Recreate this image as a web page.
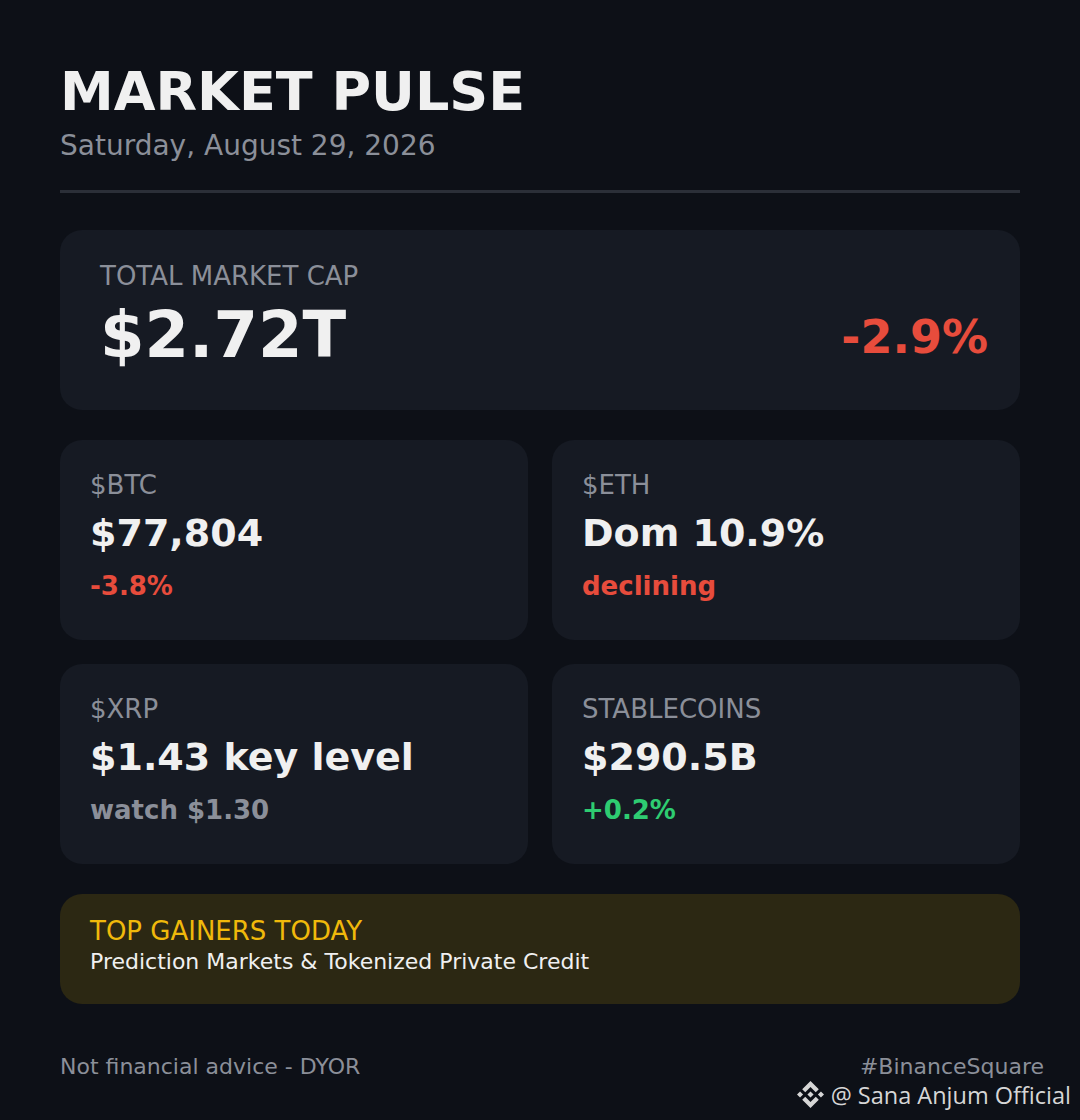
<!DOCTYPE html>
<html>
<head>
<meta charset="utf-8">
<script src="https://cdn.jsdelivr.net/npm/chart.js@4.4.1/dist/chart.umd.min.js"></script>
<style>
  html, body { margin: 0; padding: 0; }
  body { width: 1080px; height: 1120px; background: #0d1017; position: relative; overflow: hidden;
         font-family: "DejaVu Sans", sans-serif; color: #f0f0f0; }
  .abs { position: absolute; white-space: nowrap; }
  .card { position: absolute; background: #161a23; border-radius: 22px; }
  .gray { color: #8b8f99; }
  .down { color: #e74c3c; }
  .up { color: #2ecc71; }
  .neutral { color: #8b8f99; }
  .b { font-weight: bold; }
</style>
</head>
<body>
<div id="root"></div>
<script>
// ---- data ----
const title = "MARKET PULSE";
const dateLine = "Saturday, August 29, 2026";
const totalLabel = "TOTAL MARKET CAP";
const totalValue = "$2.72T";
const totalChange = "-2.9%";
const totalTone = "down";
const cardLabels = ["$BTC", "$ETH", "$XRP", "STABLECOINS"];
const cardValues = ["$77,804", "Dom 10.9%", "$1.43 key level", "$290.5B"];
const cardSubs = ["-3.8%", "declining", "watch $1.30", "+0.2%"];
const cardTones = ["down", "down", "neutral", "up"];
const gainersTitle = "TOP GAINERS TODAY";
const gainersText = "Prediction Markets & Tokenized Private Credit";
const footerLeft = "Not financial advice - DYOR";
const footerTag = "#BinanceSquare";
const footerCredit = "@ Sana Anjum Official";

// ---- layout helpers ----
const root = document.getElementById('root');
// place text so that its baseline lands at y (DejaVu metrics, line-height = font-size)
function text(str, opts) {
  const d = document.createElement('div');
  d.className = 'abs ' + (opts.cls || '');
  d.textContent = str;
  const fs = opts.size;
  const k = opts.k || 0.846;
  d.style.fontSize = fs + 'px';
  d.style.lineHeight = fs + 'px';
  d.style.top = (opts.base - k * fs) + 'px';
  if (opts.font) d.style.fontFamily = opts.font;
  if (opts.color) d.style.color = opts.color;
  if (opts.right !== undefined) d.style.right = opts.right + 'px';
  else d.style.left = opts.left + 'px';
  root.appendChild(d);
  return d;
}
function box(x, y, w, h, bg) {
  const d = document.createElement('div');
  d.className = 'card';
  d.style.left = x + 'px'; d.style.top = y + 'px';
  d.style.width = w + 'px'; d.style.height = h + 'px';
  if (bg) d.style.background = bg;
  root.appendChild(d);
  return d;
}

// header
text(title, {left: 60, base: 111, size: 54, cls: 'b'});
text(dateLine, {left: 60, base: 156, size: 28, cls: 'gray'});
const rule = document.createElement('div');
rule.className = 'abs';
Object.assign(rule.style, {left: '60px', top: '189.5px', width: '960px', height: '3px', background: '#2b2f38'});
root.appendChild(rule);

// total market cap card
box(60, 230, 960, 180);
text(totalLabel, {left: 100, base: 285, size: 26, cls: 'gray'});
text(totalValue, {left: 100, base: 357, size: 64, cls: 'b'});
text(totalChange, {right: 1080 - 988, base: 353, size: 46, cls: 'b ' + totalTone});

// 2x2 cards
cardLabels.forEach((lab, i) => {
  const col = i % 2, row = Math.floor(i / 2);
  const x = 60 + col * 492, y = 440 + row * 224;
  box(x, y, 468, 200);
  text(lab, {left: x + 30, base: y + 53.5, size: 26, cls: 'gray'});
  text(cardValues[i], {left: x + 30, base: y + 106.5, size: 38, cls: 'b'});
  text(cardSubs[i], {left: x + 30, base: y + 154.5, size: 26, cls: 'b ' + cardTones[i]});
});

// gainers
box(60, 894, 960, 110, '#2c2813');
text(gainersTitle, {left: 90, base: 939.5, size: 26, color: '#f0b90b'});
text(gainersText, {left: 90, base: 970, size: 22, color: '#f0f0f0'});

// footer
text(footerLeft, {left: 60, base: 1075, size: 22, cls: 'gray'});
text(footerTag, {right: 1080 - 1044, base: 1074.5, size: 22, cls: 'gray'});
text(footerCredit, {right: 1080 - 1071, base: 1103, size: 23.5, font: '"Open Sans", sans-serif', color: '#d6d6d6', k: 0.80});

// Binance mark
const svgNS = 'http://www.w3.org/2000/svg';
const svg = document.createElementNS(svgNS, 'svg');
svg.setAttribute('viewBox', '0 0 126.61 126.61');
Object.assign(svg.style, {position: 'absolute', left: '797px', top: '1081px', width: '27px', height: '27px'});
const p = document.createElementNS(svgNS, 'path');
p.setAttribute('fill', '#d6d6d6');
p.setAttribute('d', 'M38.73 53.2l24.59-24.58 24.6 24.6 14.3-14.31L63.32 0 24.43 38.9l14.3 14.3zM0 63.31l14.3-14.31 14.31 14.31-14.31 14.3zM38.73 73.41l24.59 24.59 24.6-24.6 14.31 14.29-38.9 38.91-38.91-38.88-.02-.02 14.33-14.29zM98 63.31l14.3-14.31 14.31 14.3-14.31 14.32zM77.83 63.3L63.32 48.78 52.59 59.51l-1.24 1.23-2.54 2.54-.02.02.02.03 14.51 14.5 14.51-14.52.01-.01-.01-.01z');
svg.appendChild(p);
root.appendChild(svg);
</script>
</body>
</html>
